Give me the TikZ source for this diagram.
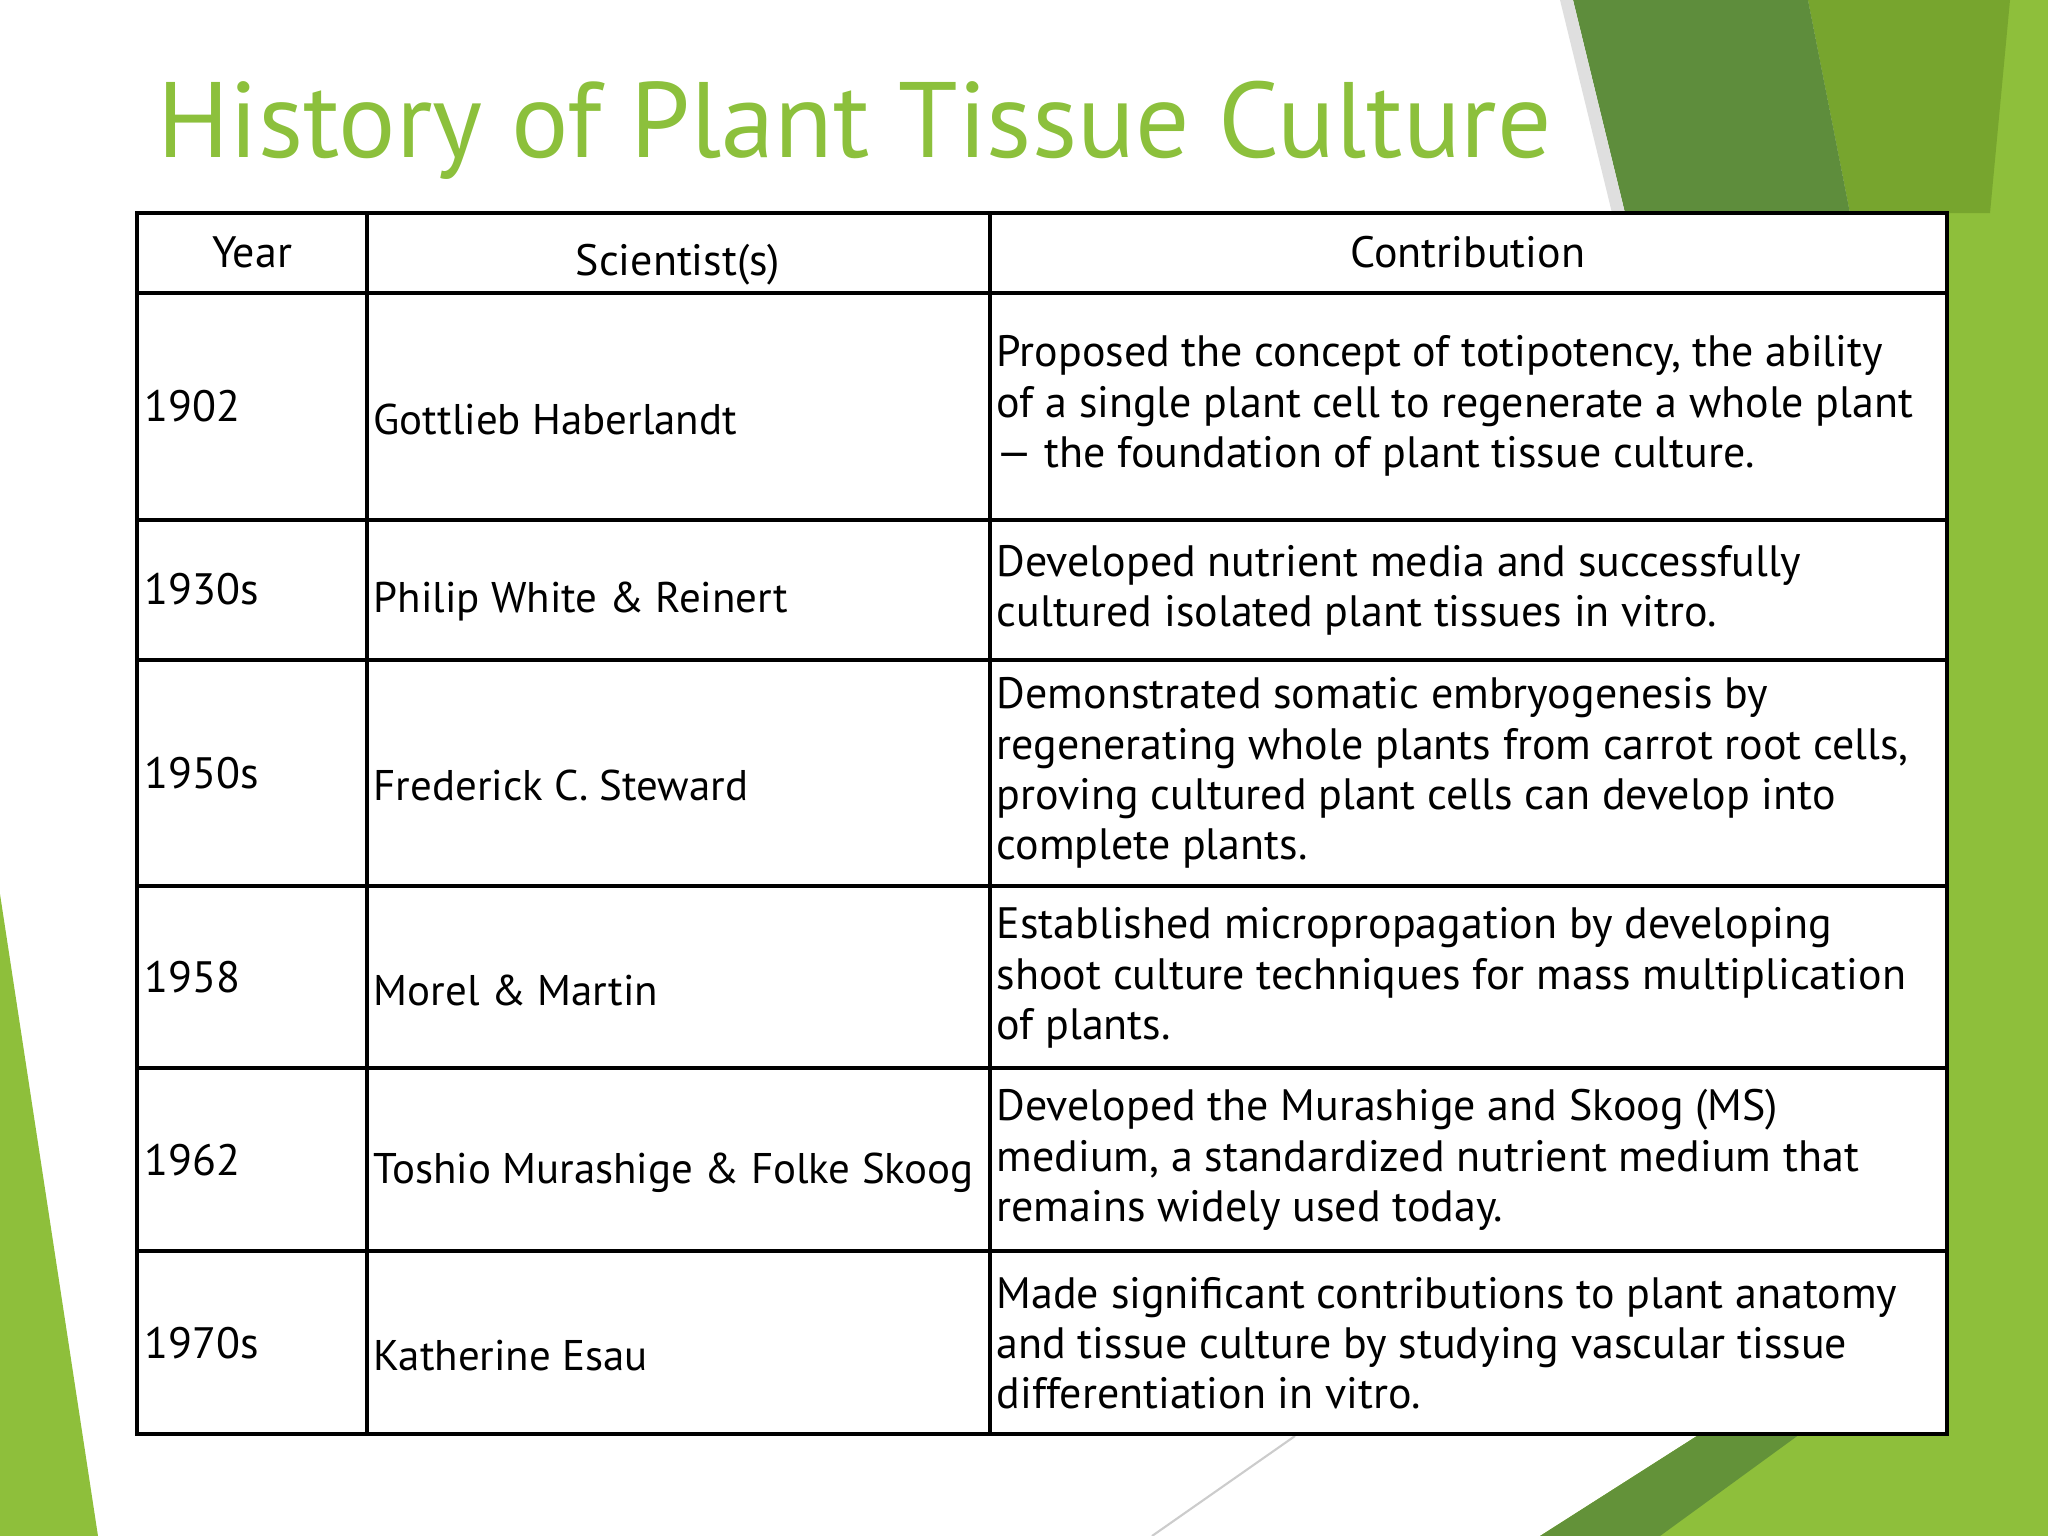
\documentclass[tikz,border=0pt]{standalone}
\usepackage{fontspec}
\setmainfont{PT Sans}
\definecolor{titlegreen}{HTML}{8CC03C}
\definecolor{leafdark}{HTML}{5E8D3C}
\definecolor{leafmid}{HTML}{77A52E}
\definecolor{leaflight}{HTML}{8EBF3B}
\tikzset{
    cell/.style={draw, line width=1.2pt},
    cellText/.style={font=\fontsize{12.5}{14.3}\selectfont, anchor=west, align=left, inner sep=0pt},
    sciText/.style={cellText, font=\fontsize{12.2}{14.3}\selectfont},
    headText/.style={font=\fontsize{12.5}{14.3}\selectfont, inner sep=0pt}
}
\begin{document}
\begin{tikzpicture}[x=0.01cm, y=-0.01cm]
    \useasboundingbox (0,0) rectangle (2048,1536);

    %% background leaves
    \fill[leaflight] (1808,0) -- (2048,0) -- (2048,1536) -- (1540,1536) -- (1700,1434) -- (1947,1434) -- (1947,213) -- (1850,213) -- cycle;
    \fill[leafmid] (1808,0) -- (2010,0) -- (1990,213) -- (1850,213) -- cycle;
    \fill[leafdark] (1573,0) -- (1808,0) -- (1850,213) -- (1625,213) -- cycle;
    \fill[leafdark!80!leafmid] (1540,1536) -- (1700,1434) -- (1800,1434) -- (1660,1536) -- cycle;
    \fill[gray!25] (1560,0) -- (1573,0) -- (1625,213) -- (1612,213) -- cycle;
    \fill[leaflight] (0,894) -- (98,1536) -- (0,1536) -- cycle;
    \draw[gray!40, line width=0.6pt] (1295,1436) -- (1152,1536);

    %% title
    \node[font=\fontsize{30.5}{36}\selectfont, text=titlegreen, anchor=base west, inner sep=0pt] (title) at (157,157) {History of Plant Tissue Culture};

    %% table frame
    \draw[cell, fill=white] (137,213) rectangle (1947,1434);
    \draw[cell] (367,213) -- (367,1434);
    \draw[cell] (990,213) -- (990,1434);
    \draw[cell] (137,293) -- (1947,293);
    \draw[cell] (137,520) -- (1947,520);
    \draw[cell] (137,660) -- (1947,660);
    \draw[cell] (137,886) -- (1947,886);
    \draw[cell] (137,1068) -- (1947,1068);
    \draw[cell] (137,1251) -- (1947,1251);

    %% header
    \node[headText] (hYear) at (252,252) {Year};
    \node[headText] (hSci) at (678,265) {Scientist(s)};
    \node[headText] (hCon) at (1468,252) {Contribution};

    %% rows
    \node[cellText] (y1) at (144,406) {1902};
    \node[sciText] (s1) at (373,419) {Gottlieb Haberlandt};
    \node[cellText] (c1) at (996,406) {Proposed the concept of totipotency, the ability\\of a single plant cell to regenerate a whole plant\\— the foundation of plant tissue culture.};

    \node[cellText] (y2) at (144,589) {1930s};
    \node[sciText] (s2) at (373,602) {Philip White \& Reinert};
    \node[cellText] (c2) at (996,590) {Developed nutrient media and successfully\\cultured isolated plant tissues in vitro.};

    \node[cellText] (y3) at (144,773) {1950s};
    \node[sciText] (s3) at (373,785) {Frederick C. Steward};
    \node[cellText] (c3) at (996,773) {Demonstrated somatic embryogenesis by\\regenerating whole plants from carrot root cells,\\proving cultured plant cells can develop into\\complete plants.};

    \node[cellText] (y4) at (144,977) {1958};
    \node[sciText] (s4) at (373,990) {Morel \& Martin};
    \node[cellText] (c4) at (996,978) {Established micropropagation by developing\\shoot culture techniques for mass multiplication\\of plants.};

    \node[cellText] (y5) at (144,1160) {1962};
    \node[sciText] (s5) at (373,1173) {Toshio Murashige \& Folke Skoog};
    \node[cellText] (c5) at (996,1160) {Developed the Murashige and Skoog (MS)\\medium, a standardized nutrient medium that\\remains widely used today.};

    \node[cellText] (y6) at (144,1343) {1970s};
    \node[sciText] (s6) at (373,1356) {Katherine Esau};
    \node[cellText] (c6) at (996,1343) {Made significant contributions to plant anatomy\\and tissue culture by studying vascular tissue\\differentiation in vitro.};
\end{tikzpicture}
\end{document}
